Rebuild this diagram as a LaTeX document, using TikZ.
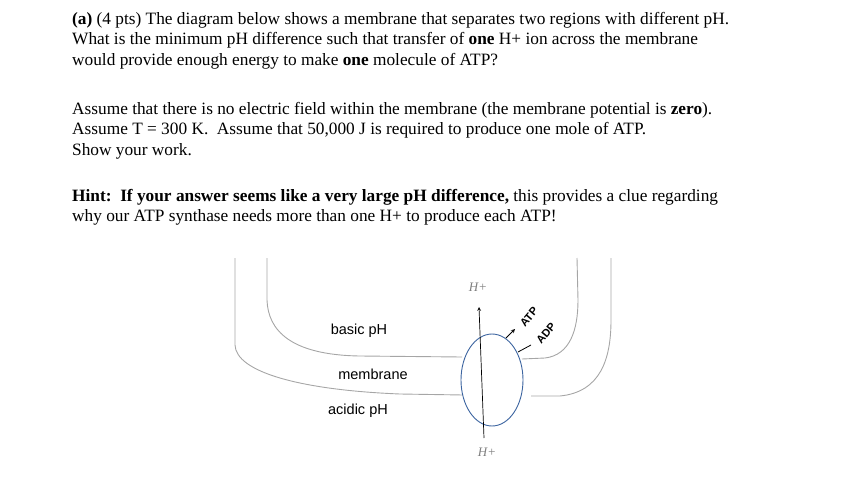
\documentclass[tikz,border=0pt]{standalone}
\usepackage{fontspec}
\usetikzlibrary{shapes.geometric}
\setmainfont{Liberation Serif}
\newfontfamily\arial{Liberation Sans}
\begin{document}
\begin{tikzpicture}[x=1pt,y=-1pt,
  para/.style={anchor=north west,align=left,inner sep=0pt,font=\fontsize{17.3}{20.5}\selectfont},
  lab/.style={font=\arial\fontsize{14.5}{16}\selectfont,inner sep=0pt},
  hand/.style={draw=gray!70,line width=0.9pt},
  hw/.style={font=\fontsize{13}{14}\selectfont\itshape,text=gray,inner sep=0pt}]
\useasboundingbox (0,0) rectangle (852,477);
\node[para] (p1) at (72,12) {\textbf{(a)} (4 pts) The diagram below shows a membrane that separates two regions with different pH.\\ What is the minimum pH difference such that transfer of \textbf{one} H+ ion across the membrane\\ would provide enough energy to make \textbf{one} molecule of ATP?};
\node[para] (p2) at (72,102) {Assume that there is no electric field within the membrane (the membrane potential is \textbf{zero}).\\ Assume T = 300 K.\ \ Assume that 50,000 J is required to produce one mole of ATP.\\ Show your work.};
\node[para] (p3) at (72,189) {\textbf{Hint:\ \ If your answer seems like a very large pH difference,} this provides a clue regarding\\ why our ATP synthase needs more than one H+ to produce each ATP!};
% membranes
\draw[hand] (235,258) -- (235,345) .. controls (236,372) and (300,390) .. (400,394) -- (463,395);
\draw[hand] (267,258) -- (267,300) .. controls (268,330) and (290,355) .. (360,356) -- (462,357);
\draw[hand] (522,359) -- (545,358) .. controls (570,355) and (578,330) .. (578,300) -- (577,258);
\draw[hand] (531,396) -- (560,396) .. controls (600,392) and (611,360) .. (611,320) -- (611,258);
\node[draw={rgb,255:red,60;green,100;blue,160},line width=0.9pt,ellipse,minimum width=62pt,minimum height=92pt,inner sep=0pt] (pump) at (492,380) {};
\node[hw] (htop) at (478,287) {H+};
\node[hw] (hbot) at (487,452) {H+};
\draw[-stealth,line width=0.7pt] (484,438) -- (479,307);
\coordinate (a1) at (506,338);
\coordinate (a2) at (515,329);
\draw[-stealth,line width=0.8pt] (a1) -- (a2);
\node[font=\arial\bfseries\fontsize{11}{12}\selectfont,rotate=50,inner sep=0pt] (atp) at (529,317) {ATP};
\coordinate (d1) at (518,352);
\coordinate (d2) at (531,345);
\draw[line width=0.8pt] (d1) -- (d2);
\node[font=\arial\bfseries\fontsize{11}{12}\selectfont,rotate=50,inner sep=0pt] (adp) at (546,333) {ADP};
\node[lab] (basic) at (359,331) {basic pH};
\node[lab] (mem) at (373,374) {membrane};
\node[lab] (acid) at (358,411) {acidic pH};
\end{tikzpicture}
\end{document}
